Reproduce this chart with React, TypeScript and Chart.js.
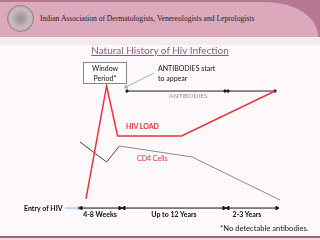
import React, { useEffect, useRef } from "react";
import { Chart, registerables } from "chart.js";

Chart.register(...registerables);

// Time axis: 0 = entry of HIV, 100 = end of 2-3 years (slide units)
// Level axis: 0..100 (slide units)
const hivLoadX = [3, 13.3, 18.8, 50.8, 97.5];
const hivLoadY = [8.5, 95.4, 56.9, 56.9, 91.5];
const cd4X = [0, 13.3, 19.7, 56, 100];
const cd4Y = [52.3, 36.9, 49.2, 40.8, 7.7];
const antibodyX = [23.5, 72.5, 74, 97.5];
const antibodyY = [91.5, 91.5, 91.5, 91.5];
const periodStart = [0.5, 22, 74];
const periodEnd = [20, 72, 98.5];
const periodLabels = ["4-8 Weeks", "Up to 12 Years", "2-3 Years"];
const timelineLevel = 1.5;
const entryArrowX = [-7.5, -0.5];
const antibodyArrowX = [37, 23];
const antibodyArrowY = [105.4, 94.6];

const pts = (xs: number[], ys: number[]) => xs.map((x, i) => ({ x, y: ys[i] }));

export default function App() {
  const ref = useRef<HTMLCanvasElement>(null);
  useEffect(() => {
    document.body.style.margin = "0";
    const periodSets = periodStart.map((s, i) => ({
      label: periodLabels[i],
      data: pts([s, periodEnd[i]], [timelineLevel, timelineLevel]),
      borderColor: "#111",
      backgroundColor: "#111",
      borderWidth: 1,
      pointStyle: "triangle" as const,
      pointRotation: [270, 90],
      pointRadius: 2,
      clip: false as const,
    }));
    const chart = new Chart(ref.current!, {
      type: "line",
      data: {
        datasets: [
          {
            label: "HIV LOAD",
            data: pts(hivLoadX, hivLoadY),
            borderColor: "#e8343c",
            borderWidth: 1.5,
            pointRadius: 0,
            clip: false,
          },
          {
            label: "CD4 Cells",
            data: pts(cd4X, cd4Y),
            borderColor: "#8a8a8a",
            borderWidth: 1,
            pointRadius: 0,
            segment: {
              borderColor: (c: any) => (c.p0DataIndex < 2 ? "#444" : "#8a8a8a"),
            },
            clip: false,
          },
          {
            label: "ANTIBODIES",
            data: pts(antibodyX, antibodyY),
            borderColor: "#222",
            backgroundColor: "#111",
            borderWidth: 1,
            pointRadius: 1.2,
            clip: false,
          },
          ...periodSets,
          {
            label: "entry",
            data: pts(entryArrowX, [timelineLevel, timelineLevel]),
            borderColor: "#8fb4dc",
            backgroundColor: "#8fb4dc",
            borderWidth: 1,
            pointStyle: "triangle",
            pointRotation: 90,
            pointRadius: [0, 2],
            clip: false,
          },
          {
            label: "appear",
            data: pts(antibodyArrowX, antibodyArrowY),
            borderColor: "#8fb4dc",
            backgroundColor: "#8fb4dc",
            borderWidth: 1,
            pointStyle: "triangle",
            pointRotation: 243,
            pointRadius: [0, 2],
            clip: false,
          },
        ] as any,
      },
      options: {
        animation: false,
        responsive: false,
        devicePixelRatio: 1,
        layout: { padding: { left: 80, right: 40, top: 80, bottom: 30 } },
        scales: {
          x: { type: "linear", min: 0, max: 100, display: false },
          y: { type: "linear", min: 0, max: 100, display: false },
        },
        plugins: { legend: { display: false }, tooltip: { enabled: false } },
        elements: { line: { tension: 0 } },
      },
    });
    return () => chart.destroy();
  }, []);

  const sans = "Lato, 'Open Sans', sans-serif";
  const abs = (s: React.CSSProperties): React.CSSProperties => ({
    position: "absolute",
    whiteSpace: "nowrap",
    fontFamily: sans,
    ...s,
  });

  return (
    <div
      style={{
        position: "fixed",
        left: 0,
        top: 0,
        width: 320,
        height: 240,
        overflow: "hidden",
        background: "#fdf8fa",
      }}
    >
      {/* header */}
      <div style={{ position: "absolute", left: 0, top: 0, width: 320, height: 37, background: "#b47893" }} />
      <div
        style={{
          position: "absolute",
          left: 0,
          top: 2,
          width: 318,
          height: 35,
          background: "#dca8bb",
          borderTopRightRadius: "52px 34px",
        }}
      />
      <div style={{ position: "absolute", left: 0, top: 37, width: 320, height: 8, background: "#f6e9ef" }} />
      <div
        style={{
          position: "absolute",
          left: 7,
          top: 5,
          width: 25,
          height: 25,
          borderRadius: "50%",
          background: "radial-gradient(circle, #9a8c90 0%, #c9bcc0 55%, #a8999e 100%)",
          border: "1px solid #8c7e83",
        }}
      />
      <div
        style={abs({
          left: 40,
          top: 14,
          fontFamily: "'Liberation Serif', 'DejaVu Serif', serif",
          fontSize: 7.6,
          color: "#2a2024",
        })}
      >
        Indian Association of Dermatologists, Venereologists and Leprologists
      </div>
      {/* bottom rule */}
      <div style={{ position: "absolute", left: 0, top: 236, width: 320, height: 2, background: "#a5627f" }} />
      <div style={{ position: "absolute", left: 0, top: 238, width: 320, height: 2, background: "#efdbe4" }} />

      <canvas ref={ref} width={320} height={240} style={{ position: "absolute", left: 0, top: 0 }} />

      {/* texts */}
      <div
        style={abs({
          left: 0,
          width: 320,
          top: 44,
          textAlign: "center",
          fontSize: 10,
          color: "#8a5c80",
          textDecoration: "underline",
        })}
      >
        Natural History of Hiv Infection
      </div>
      <div
        style={abs({
          left: 83,
          top: 62,
          width: 42,
          height: 20,
          border: "1px solid #888",
          background: "#fff",
          fontSize: 7,
          lineHeight: "10px",
          textAlign: "center",
          color: "#111",
        })}
      >
        Window
        <br />
        Period*
      </div>
      <div style={abs({ left: 158, top: 63, fontSize: 7, lineHeight: "10px", color: "#111" })}>
        ANTIBODIES start
        <br />
        to appear
      </div>
      <div style={abs({ left: 169, top: 92, fontSize: 6.5, color: "#b07d9c" })}>ANTIBODIES</div>
      <div style={abs({ left: 126, top: 122, fontSize: 7, fontWeight: 700, color: "#e8343c" })}>HIV LOAD</div>
      <div style={abs({ left: 137, top: 154, fontSize: 7, color: "#e8343c" })}>CD4 Cells</div>
      <div style={abs({ left: 24, top: 204, fontSize: 7, fontWeight: 700, color: "#111" })}>Entry of HIV</div>
      <div style={abs({ left: 70, width: 60, top: 210, textAlign: "center", fontSize: 7, fontWeight: 700, color: "#111" })}>
        {periodLabels[0]}
      </div>
      <div style={abs({ left: 134, width: 80, top: 210, textAlign: "center", fontSize: 7, fontWeight: 700, color: "#111" })}>
        {periodLabels[1]}
      </div>
      <div style={abs({ left: 217, width: 60, top: 210, textAlign: "center", fontSize: 7, fontWeight: 700, color: "#111" })}>
        {periodLabels[2]}
      </div>
      <div style={abs({ left: 220, top: 223, fontSize: 7.6, color: "#222" })}>*No detectable antibodies.</div>
    </div>
  );
}
